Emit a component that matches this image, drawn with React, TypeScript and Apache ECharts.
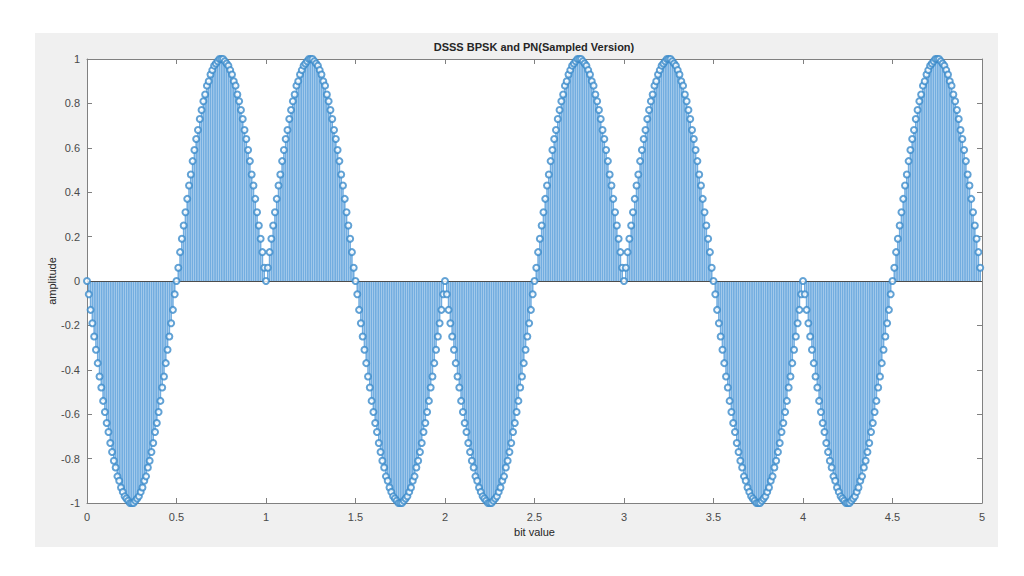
import React, { useEffect, useRef } from "react";
import * as echarts from "echarts";

// One half-bit lobe of the sampled carrier (50 samples, step 0.01)
const lobeSamples: number[] = [
  0, 0.06, 0.13, 0.19, 0.25, 0.31, 0.37, 0.43, 0.48, 0.54,
  0.59, 0.64, 0.68, 0.73, 0.77, 0.81, 0.84, 0.88, 0.9, 0.93,
  0.95, 0.97, 0.98, 0.99, 1.0, 1.0, 1.0, 0.99, 0.98, 0.97,
  0.95, 0.93, 0.9, 0.88, 0.84, 0.81, 0.77, 0.73, 0.68, 0.64,
  0.59, 0.54, 0.48, 0.43, 0.37, 0.31, 0.25, 0.19, 0.13, 0.06,
];
// Polarity of each half-bit interval (0-0.5, 0.5-1, ..., 4.5-5)
const halfBitSigns: number[] = [-1, 1, 1, -1, -1, 1, 1, -1, -1, 1];
const sampleStep = 0.01;

const xTicks = { min: 0, max: 5, interval: 0.5 };
const yTicks = { min: -1, max: 1, interval: 0.2 };

const titleText = "DSSS BPSK and PN(Sampled Version)";
const xName = "bit value";
const yName = "amplitude";

export default function App() {
  const ref = useRef<HTMLDivElement>(null);
  useEffect(() => {
    if (!ref.current) return;
    const chart = echarts.init(ref.current, null, { renderer: "svg" });

    const points: number[][] = [];
    halfBitSigns.forEach((s, h) => {
      lobeSamples.forEach((v, k) => {
        const i = h * lobeSamples.length + k;
        const t = Math.round(i * sampleStep * 100) / 100;
        points.push([t, v === 0 ? 0 : s * v]);
      });
    });

    const stemColor = "#72ade0";
    const markerColor = "#3b8bcb";
    const axisColor = "#808080";
    const labelColor = "#4a4a4a";
    const font = "'Liberation Sans', Arial, sans-serif";

    const baseX = {
      type: "value",
      min: xTicks.min,
      max: xTicks.max,
      interval: xTicks.interval,
      splitLine: { show: false },
      axisLine: { show: true, onZero: false, lineStyle: { color: axisColor, width: 1 } },
      axisTick: { show: true, inside: true, length: 5, lineStyle: { color: axisColor } },
    };
    const baseY = {
      type: "value",
      min: yTicks.min,
      max: yTicks.max,
      interval: yTicks.interval,
      splitLine: { show: false },
      axisLine: { show: true, onZero: false, lineStyle: { color: axisColor, width: 1 } },
      axisTick: { show: true, inside: true, length: 5, lineStyle: { color: axisColor } },
    };

    chart.setOption({
      animation: false,
      backgroundColor: "#ffffff",
      graphic: [
        {
          type: "rect",
          left: 35,
          top: 33,
          z: -10,
          silent: true,
          shape: { width: 963, height: 514 },
          style: { fill: "#f0f0f0" },
        },
      ],
      title: {
        text: titleText,
        left: 534,
        textAlign: "center",
        top: 41,
        padding: 0,
        textStyle: { fontFamily: font, fontSize: 11, fontWeight: "bold", color: "#262626" },
      },
      grid: {
        left: 87,
        right: 42,
        top: 59,
        bottom: 73,
        show: true,
        backgroundColor: "#ffffff",
        borderWidth: 0,
      },
      xAxis: [
        {
          ...baseX,
          position: "bottom",
          name: xName,
          nameLocation: "middle",
          nameGap: 23,
          nameMoveOverlap: false,
          nameTextStyle: { fontFamily: font, fontSize: 11, color: "#262626" },
          axisLabel: { show: true, margin: 8, fontFamily: font, fontSize: 11, color: labelColor },
        },
        {
          ...baseX,
          position: "top",
          axisLabel: { show: false },
        },
      ],
      yAxis: [
        {
          ...baseY,
          position: "left",
          name: yName,
          nameLocation: "middle",
          nameGap: 35,
          nameMoveOverlap: false,
          nameTextStyle: { fontFamily: font, fontSize: 11, color: "#262626", verticalAlign: "middle" },
          axisLabel: { show: true, margin: 7, fontFamily: font, fontSize: 11, color: labelColor },
        },
        {
          ...baseY,
          position: "right",
          axisLabel: { show: false },
        },
      ],
      series: [
        {
          type: "custom",
          xAxisIndex: 0,
          yAxisIndex: 0,
          data: points,
          clip: false,
          renderItem: (params: any, api: any) => {
            const x = api.value(0);
            const y = api.value(1);
            const p0 = api.coord([x, 0]);
            const p1 = api.coord([x, y]);
            return {
              type: "line",
              shape: { x1: p0[0], y1: p0[1], x2: p1[0], y2: p1[1] },
              style: { stroke: stemColor, lineWidth: 1.6 },
            };
          },
          z: 2,
        },
        {
          type: "scatter",
          xAxisIndex: 0,
          yAxisIndex: 0,
          data: points,
          symbol: "emptyCircle",
          symbolSize: 6,
          itemStyle: { color: markerColor, borderColor: markerColor, borderWidth: 1 },
          z: 4,
          markLine: {
            silent: true,
            symbol: "none",
            label: { show: false },
            lineStyle: { color: "#4d4d4d", width: 1, type: "solid" },
            data: [{ yAxis: 0 }],
            z: 3,
          },
        },
      ],
    });
    return () => chart.dispose();
  }, []);
  return (
    <div
      ref={ref}
      style={{ position: "absolute", left: 0, top: 0, width: 1024, height: 576 }}
    />
  );
}
